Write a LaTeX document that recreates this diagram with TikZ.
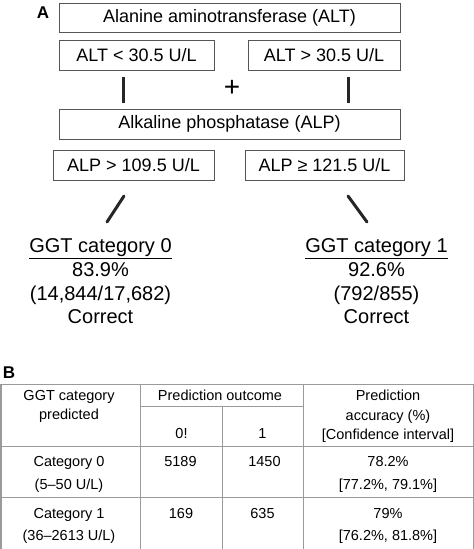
\documentclass[tikz,border=0pt]{standalone}
\usepackage{fontspec}
\setmainfont{Liberation Sans}
\definecolor{boxgray}{HTML}{555555}
\definecolor{tabgray}{HTML}{9A9A9A}
\begin{document}
\begin{tikzpicture}[x=1pt,y=-1pt,
  afont/.style={font=\fontsize{18}{22}\selectfont},
  gfont/.style={font=\fontsize{20}{24}\selectfont},
  tfont/.style={font=\fontsize{14.5}{17}\selectfont},
  box/.style={draw=boxgray, line width=0.9pt, inner sep=0pt, minimum height=30pt, afont},
  bar/.style={line width=3pt, black!85},
  txt/.style={gfont, anchor=base, inner sep=0pt},
  ttxt/.style={tfont, anchor=base, inner sep=0pt},
  tline/.style={draw=tabgray, line width=1pt}]
\useasboundingbox (0,0) rectangle (474,549);
% Panel A
\node[font=\fontsize{17}{20}\selectfont\bfseries] (labA) at (43,13) {A};
\node[box, minimum width=341pt, minimum height=29pt] (alt) at (229.5,17.5) {Alanine aminotransferase (ALT)};
\node[box, minimum width=155pt] (altlo) at (136.5,55.5) {ALT < 30.5 U/L};
\node[box, minimum width=152pt] (althi) at (324,55.5) {ALT > 30.5 U/L};
\node[font=\fontsize{28}{30}\selectfont, inner sep=0pt] (plus) at (232,88) {+};
\node[box, minimum width=341pt] (alp) at (229.5,124) {Alkaline phosphatase (ALP)};
\node[box, minimum width=161pt] (alplo) at (133.5,165) {ALP > 109.5 U/L};
\node[box, minimum width=159pt] (alphi) at (324.5,165) {ALP ≥ 121.5 U/L};
\coordinate (b1s) at (123,77); \coordinate (b1e) at (123,103);
\coordinate (b2s) at (348,77); \coordinate (b2e) at (348,103);
\draw[bar] (b1s) -- (b1e);
\draw[bar] (b2s) -- (b2e);
\coordinate (d1s) at (124,196); \coordinate (d1e) at (107,222);
\coordinate (d2s) at (348,196); \coordinate (d2e) at (367,222);
\draw[bar, line cap=round] (d1s) -- (d1e);
\draw[bar, line cap=round] (d2s) -- (d2e);
\node[txt] (g0a) at (100.5,252.5) {\underline{GGT category 0}};
\node[txt] (g0b) at (100.5,276.5) {83.9\%};
\node[txt] (g0c) at (100.5,300) {(14,844/17,682)};
\node[txt] (g0d) at (100.5,323.5) {Correct};
\node[txt] (g1a) at (376.5,252.5) {\underline{GGT category 1}};
\node[txt] (g1b) at (376.5,276.5) {92.6\%};
\node[txt] (g1c) at (376.5,300) {(792/855)};
\node[txt] (g1d) at (376.5,323.5) {Correct};
% Panel B
\node[font=\fontsize{17}{20}\selectfont\bfseries] (labB) at (9,373) {B};
\draw[tline] (1,384) -- (473,384);
\draw[tline, line width=2pt] (1,384) -- (1,549);
\draw[tline] (473,384) -- (473,549);
\draw[tline] (140,384) -- (140,549);
\draw[tline] (303,384) -- (303,549);
\draw[tline] (222,406) -- (222,549);
\draw[tline] (140,406) -- (303,406);
\draw[tline] (1,446) -- (473,446);
\draw[tline] (1,497) -- (473,497);
\node[ttxt] (h1a) at (69,400) {GGT category};
\node[ttxt] (h1b) at (69,419.5) {predicted};
\node[ttxt] (h2) at (220,400) {Prediction outcome};
\node[ttxt] (h2a) at (181.5,438) {0!};
\node[ttxt] (h2b) at (262.5,438) {1};
\node[ttxt] (h3a) at (388,400) {Prediction};
\node[ttxt] (h3b) at (388,420) {accuracy (\%)};
\node[ttxt] (h3c) at (388,439) {[Confidence interval]};
\node[ttxt] (r1a) at (69,466) {Category 0};
\node[ttxt] (r1b) at (69,489) {(5–50 U/L)};
\node[ttxt] (r1c) at (180.5,466) {5189};
\node[ttxt] (r1d) at (264.5,466) {1450};
\node[ttxt] (r1e) at (388,466) {78.2\%};
\node[ttxt] (r1f) at (388,489) {[77.2\%, 79.1\%]};
\node[ttxt] (r2a) at (69,518) {Category 1};
\node[ttxt] (r2b) at (69,540.5) {(36–2613 U/L)};
\node[ttxt] (r2c) at (181,518) {169};
\node[ttxt] (r2d) at (262.5,518) {635};
\node[ttxt] (r2e) at (388,518) {79\%};
\node[ttxt] (r2f) at (388,540.5) {[76.2\%, 81.8\%]};
\end{tikzpicture}
\end{document}
